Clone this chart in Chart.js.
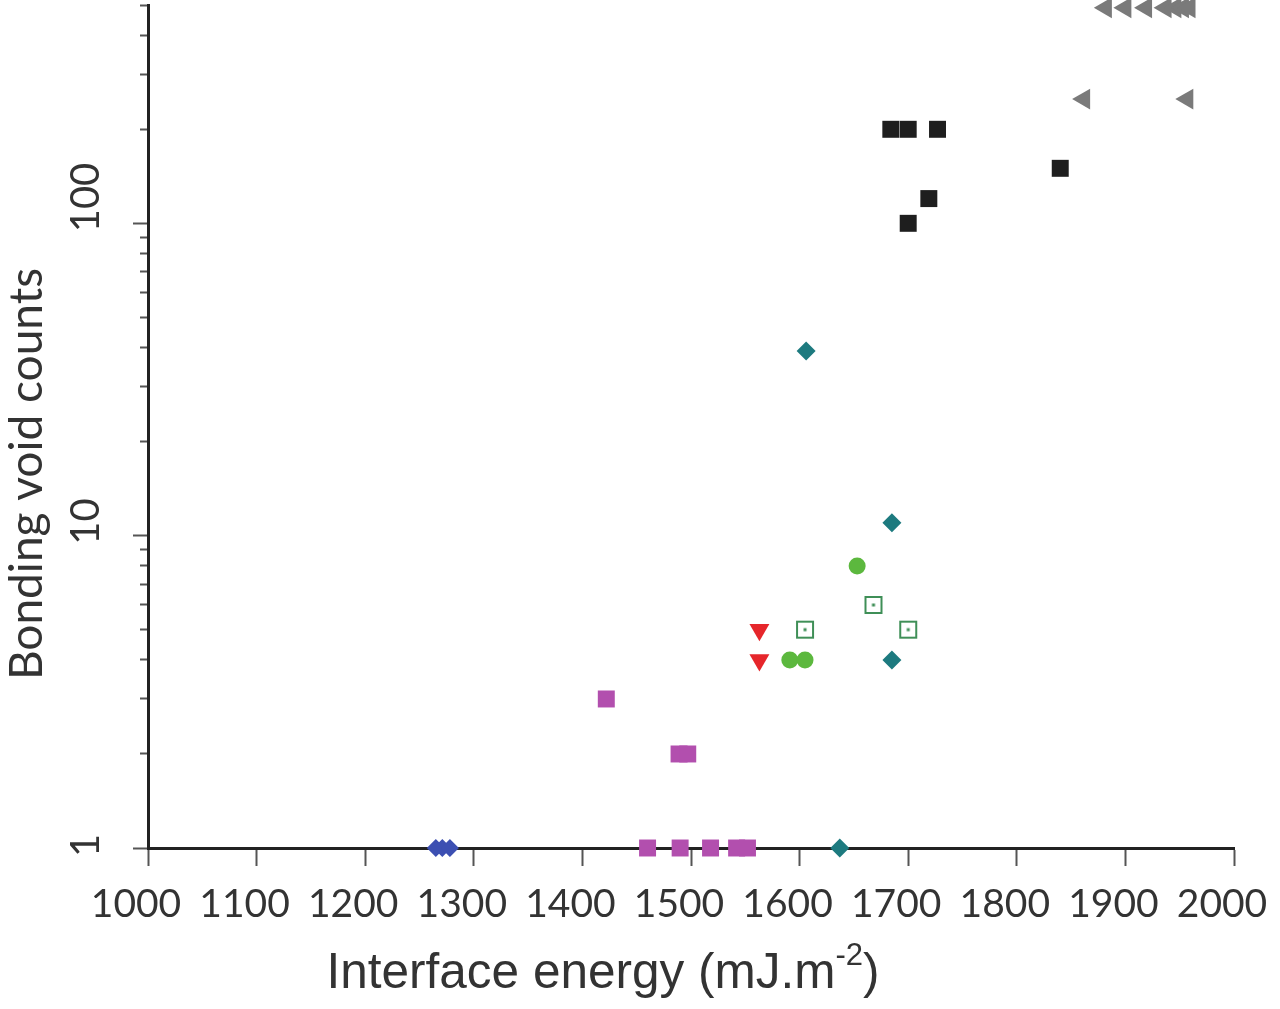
<!DOCTYPE html>
<html>
<head>
<meta charset="utf-8">
<script src="https://cdn.jsdelivr.net/npm/chart.js@4.4.0/dist/chart.umd.min.js"></script>
<style>
  html, body { margin: 0; padding: 0; background: #fff; }
  #wrap { width: 1280px; height: 1009px; }
</style>
</head>
<body>
<div id="wrap"><canvas id="voidChart" width="1280" height="1009"></canvas></div>
<script>
// interface energy (mJ/m2) and bonding void count, one pair of arrays per group
const blueEnergy = [1265, 1271, 1278];
const blueVoids = [1, 1, 1];

const pinkEnergy = [1422, 1489, 1497, 1460, 1490, 1518, 1542, 1552];
const pinkVoids = [3, 2, 2, 1, 1, 1, 1, 1];

const redEnergy = [1563, 1563];
const redVoids = [5, 4];

const greenEnergy = [1653, 1591, 1605];
const greenVoids = [8, 4, 4];

const openSqEnergy = [1605, 1668, 1700];
const openSqVoids = [5, 6, 5];

const tealEnergy = [1606, 1685, 1685, 1637];
const tealVoids = [39, 11, 4, 1];

const blackEnergy = [1684, 1700, 1727, 1840, 1719, 1700];
const blackVoids = [200, 200, 200, 150, 120, 100];

const grayEnergy = [1882, 1900, 1919, 1937, 1946, 1953, 1959, 1862, 1957];
const grayVoids = [490, 490, 490, 490, 490, 490, 490, 250, 250];

const xMin = 1000, xMax = 2000, xStep = 100;
const yMin = 1, yMax = 500;
const yLabels = [1, 10, 100];

function pairs(xs, ys) {
    return xs.map((x, i) => ({ x: x, y: ys[i] }));
}

function isDecade(v) {
    const e = Math.log10(v);
    return Math.abs(e - Math.round(e)) < 1e-9;
}

// open square with a small dot in the middle
function dotSquare(color) {
    const c = document.createElement('canvas');
    c.width = 20;
    c.height = 20;
    const g = c.getContext('2d');
    g.strokeStyle = color;
    g.lineWidth = 2;
    g.strokeRect(2, 2, 16, 16);
    g.fillStyle = color;
    g.fillRect(8.5, 8.5, 3, 3);
    return c;
}

function series(label, xs, ys, style) {
    return Object.assign({ label: label, data: pairs(xs, ys), clip: false, borderWidth: 0 }, style);
}

// axis titles (x title needs a superscript) and the rotated y labels
const axisText = {
    id: 'axisText',
    afterDraw(chart) {
        const ctx = chart.ctx;
        const yScale = chart.scales.y;
        ctx.save();
        ctx.fillStyle = '#333';

        // y tick labels, reading upward, starting a little below their tick
        ctx.font = '40px Lato, "Open Sans", sans-serif';
        ctx.textAlign = 'left';
        ctx.textBaseline = 'middle';
        yLabels.forEach(v => {
            ctx.save();
            ctx.translate(86, yScale.getPixelForValue(v) + 9);
            ctx.rotate(-Math.PI / 2);
            ctx.fillText(String(v), 0, 0);
            ctx.restore();
        });

        ctx.textBaseline = 'alphabetic';
        const big = '49.5px "Liberation Sans", Arial, sans-serif';
        const small = '31px "Liberation Sans", Arial, sans-serif';
        const part1 = 'Interface energy (mJ.m';
        const sup = '-2';
        const part2 = ')';
        ctx.font = big;
        const w1 = ctx.measureText(part1).width;
        const w3 = ctx.measureText(part2).width;
        ctx.font = small;
        const w2 = ctx.measureText(sup).width;
        let x = 603 - (w1 + w2 + w3) / 2;
        const base = 988;
        ctx.font = big;
        ctx.fillText(part1, x, base);
        x += w1;
        ctx.font = small;
        ctx.fillText(sup, x, base - 23);
        x += w2;
        ctx.font = big;
        ctx.fillText(part2, x, base);

        ctx.translate(27, 474);
        ctx.rotate(-Math.PI / 2);
        ctx.textAlign = 'center';
        ctx.textBaseline = 'middle';
        ctx.font = '46px Lato, "Open Sans", sans-serif';
        ctx.fillText('Bonding void counts', 0, 0);
        ctx.restore();
    }
};

const tickFont = { family: 'Lato, "Open Sans", sans-serif', size: 39 };

new Chart(document.getElementById('voidChart'), {
    type: 'scatter',
    data: {
        datasets: [
            series('blue', blueEnergy, blueVoids, { pointStyle: 'rectRot', pointRadius: 9, backgroundColor: '#3c4fb2' }),
            series('pink', pinkEnergy, pinkVoids, { pointStyle: 'rect', pointRadius: 12, backgroundColor: '#b24fae' }),
            series('red', redEnergy, redVoids, { pointStyle: 'triangle', rotation: 180, pointRadius: 11.5, backgroundColor: '#e6262b' }),
            series('green', greenEnergy, greenVoids, { pointStyle: 'circle', pointRadius: 8.5, backgroundColor: '#5cb83e' }),
            series('open', openSqEnergy, openSqVoids, { pointStyle: dotSquare('#3f8f57'), pointRadius: 9 }),
            series('teal', tealEnergy, tealVoids, { pointStyle: 'rectRot', pointRadius: 9.5, backgroundColor: '#1d7a7f' }),
            series('black', blackEnergy, blackVoids, { pointStyle: 'rect', pointRadius: 12, backgroundColor: '#1e1e1e' }),
            series('gray', grayEnergy, grayVoids, { pointStyle: 'triangle', rotation: -90, pointRadius: 12, backgroundColor: '#7a7a7a' })
        ]
    },
    options: {
        responsive: false,
        animation: false,
        devicePixelRatio: 1,
        layout: { autoPadding: false, padding: { left: 86, right: 46, top: 5, bottom: 0 } },
        plugins: {
            legend: { display: false },
            tooltip: { enabled: false }
        },
        scales: {
            x: {
                type: 'linear',
                min: xMin,
                max: xMax,
                border: { display: true, color: '#222', width: 3 },
                grid: { drawOnChartArea: false, drawTicks: true, tickLength: 18, tickColor: '#555', tickWidth: 2 },
                ticks: {
                    stepSize: xStep,
                    padding: 15,
                    labelOffset: -12,
                    color: '#333',
                    font: tickFont,
                    maxRotation: 0,
                    autoSkip: false,
                    callback: v => String(v)
                },
                afterFit(s) {
                    s.height = 161;
                    s.paddingLeft = 0;
                    s.paddingRight = 0;
                }
            },
            y: {
                type: 'logarithmic',
                min: yMin,
                max: yMax,
                border: { display: true, color: '#222', width: 3 },
                grid: {
                    drawOnChartArea: false,
                    drawTicks: true,
                    tickLength: 15,
                    tickColor: '#555',
                    tickWidth: 2,
                    // short minor ticks: only the part next to the axis is drawn
                    tickBorderDash: ctx => (ctx.tick && isDecade(ctx.tick.value)) ? [] : [0, 7, 8, 30]
                },
                ticks: {
                    color: '#333',
                    font: tickFont,
                    autoSkip: false,
                    callback: () => ''
                },
                afterBuildTicks(s) {
                    // keep 1..9 x 10^n only (drop the 15, 150 steps)
                    s.ticks = s.ticks.filter(t => {
                        const m = t.value / Math.pow(10, Math.floor(Math.log10(t.value) + 1e-9));
                        return Math.abs(m - Math.round(m)) < 1e-6;
                    });
                },
                afterFit(s) {
                    s.width = 62;
                    s.paddingTop = 0;
                    s.paddingBottom = 0;
                }
            }
        }
    },
    plugins: [axisText]
});
</script>
</body>
</html>
